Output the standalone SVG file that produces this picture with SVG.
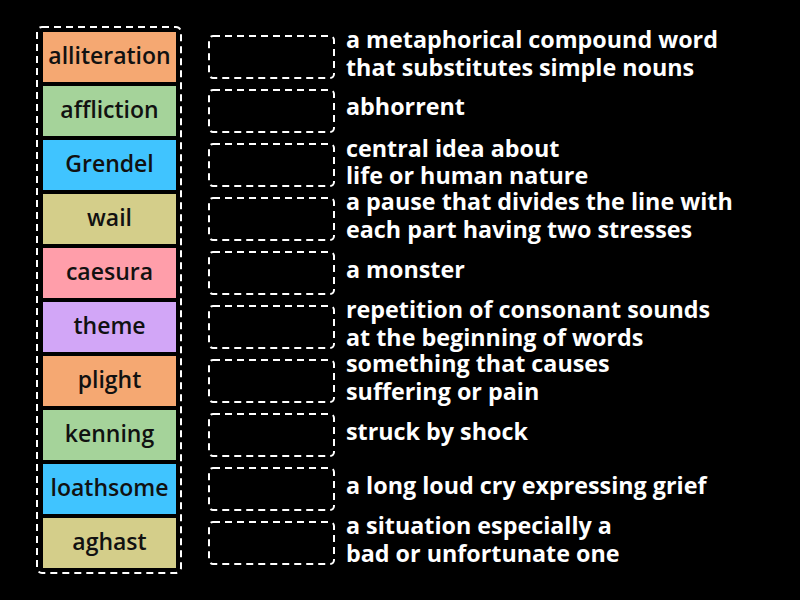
<svg xmlns="http://www.w3.org/2000/svg" width="800" height="600" viewBox="0 0 800 600">
<style>
.card{stroke:none}
.ct{font-family:"Open Sans",sans-serif;font-weight:600;font-size:23px;fill:#111;text-anchor:middle}
.slot{fill:none;stroke:#fff;stroke-width:2;stroke-dasharray:7,5}
.dt{font-family:"Open Sans",sans-serif;font-weight:700;font-size:23.3px;fill:#fff}
</style>
<rect width="800" height="600" fill="#000"/>
<rect x="37" y="27" width="144" height="546" rx="5" class="slot"/>
<g id="n1"><rect class="card" x="43" y="32" width="133" height="50" fill="#F5A872"/><text class="ct" x="109.5" y="64">alliteration</text></g>
<g id="n2"><rect class="card" x="43" y="86" width="133" height="50" fill="#A5D39A"/><text class="ct" x="109.5" y="118">affliction</text></g>
<g id="n3"><rect class="card" x="43" y="140" width="133" height="50" fill="#40C4FF"/><text class="ct" x="109.5" y="172">Grendel</text></g>
<g id="n4"><rect class="card" x="43" y="194" width="133" height="50" fill="#D4CE8A"/><text class="ct" x="109.5" y="226">wail</text></g>
<g id="n5"><rect class="card" x="43" y="248" width="133" height="50" fill="#FF9EAA"/><text class="ct" x="109.5" y="280">caesura</text></g>
<g id="n6"><rect class="card" x="43" y="302" width="133" height="50" fill="#D2A6F7"/><text class="ct" x="109.5" y="334">theme</text></g>
<g id="n7"><rect class="card" x="43" y="356" width="133" height="50" fill="#F5A872"/><text class="ct" x="109.5" y="388">plight</text></g>
<g id="n8"><rect class="card" x="43" y="410" width="133" height="50" fill="#A5D39A"/><text class="ct" x="109.5" y="442">kenning</text></g>
<g id="n9"><rect class="card" x="43" y="464" width="133" height="50" fill="#40C4FF"/><text class="ct" x="109.5" y="496">loathsome</text></g>
<g id="n10"><rect class="card" x="43" y="518" width="133" height="50" fill="#D4CE8A"/><text class="ct" x="109.5" y="550">aghast</text></g>
<g id="slots">
<rect class="slot" x="209" y="36" width="125" height="42" rx="4"/>
<rect class="slot" x="209" y="90" width="125" height="42" rx="4"/>
<rect class="slot" x="209" y="144" width="125" height="42" rx="4"/>
<rect class="slot" x="209" y="198" width="125" height="42" rx="4"/>
<rect class="slot" x="209" y="252" width="125" height="42" rx="4"/>
<rect class="slot" x="209" y="306" width="125" height="42" rx="4"/>
<rect class="slot" x="209" y="360" width="125" height="42" rx="4"/>
<rect class="slot" x="209" y="414" width="125" height="42" rx="4"/>
<rect class="slot" x="209" y="468" width="125" height="42" rx="4"/>
<rect class="slot" x="209" y="522" width="125" height="42" rx="4"/>
</g>
<g id="defs-text">
<text class="dt" x="346" y="48">a metaphorical compound word</text>
<text class="dt" x="346" y="76">that substitutes simple nouns</text>
<text class="dt" x="346" y="115">abhorrent</text>
<text class="dt" x="346" y="157">central idea about</text>
<text class="dt" x="346" y="184">life or human nature</text>
<text class="dt" x="346" y="210">a pause that divides the line with</text>
<text class="dt" x="346" y="238">each part having two stresses</text>
<text class="dt" x="346" y="278">a monster</text>
<text class="dt" x="346" y="318">repetition of consonant sounds</text>
<text class="dt" x="346" y="346">at the beginning of words</text>
<text class="dt" x="346" y="372">something that causes</text>
<text class="dt" x="346" y="400">suffering or pain</text>
<text class="dt" x="346" y="440">struck by shock</text>
<text class="dt" x="346" y="494">a long loud cry expressing grief</text>
<text class="dt" x="346" y="534">a situation especially a</text>
<text class="dt" x="346" y="562">bad or unfortunate one</text>
</g>
</svg>
